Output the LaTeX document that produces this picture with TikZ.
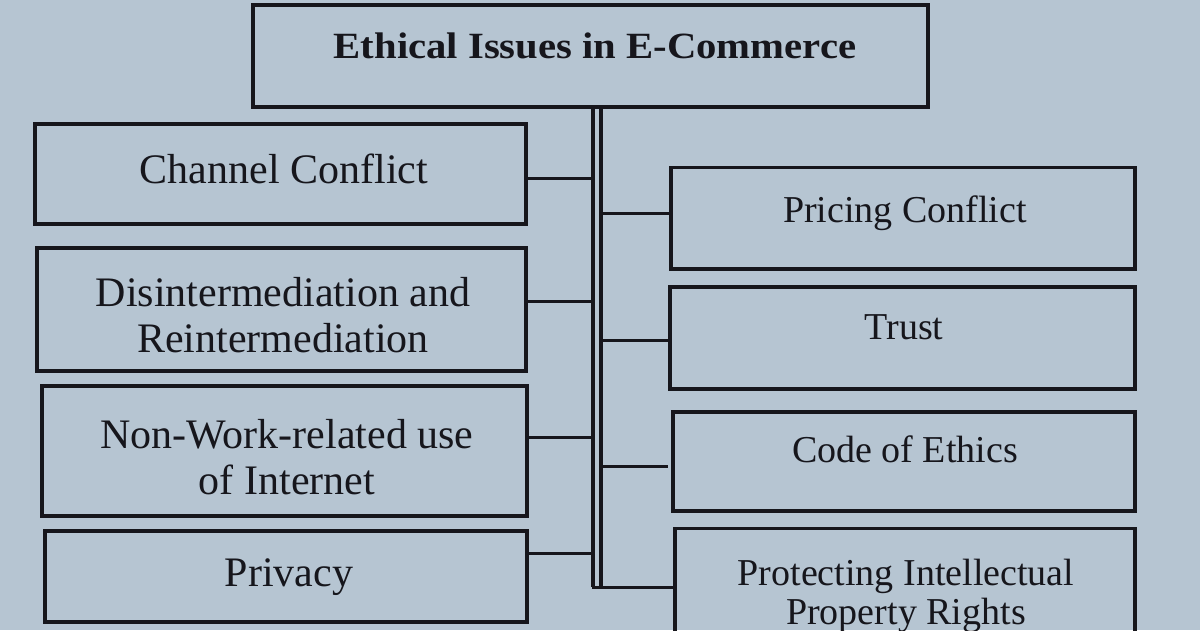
\documentclass[tikz,border=0pt]{standalone}
\usepackage{fontspec}
\setmainfont{Liberation Serif}
\newfontfamily\titlefont[FakeStretch=1.1]{Liberation Serif}
\definecolor{paper}{RGB}{182,197,210}
\definecolor{ink}{RGB}{22,22,28}
\begin{document}
\begin{tikzpicture}[x=1pt,y=-1pt,
  box/.style={draw=ink,line width=3.6pt,inner sep=0pt},
  conn/.style={draw=ink,line width=3pt,line cap=rect},
  trunk/.style={draw=ink,line width=4.5pt},
  ttxt/.style={font=\titlefont\bfseries\fontsize{37}{40}\selectfont,text=ink,inner sep=0pt,anchor=base},
  ltxt/.style={font=\fontsize{42}{46}\selectfont,text=ink,align=center,inner sep=0pt,anchor=base},
  rtxt/.style={font=\fontsize{38}{39}\selectfont,text=ink,align=center,inner sep=0pt,anchor=base}]
\useasboundingbox (0,0) rectangle (1200,630);
\clip (0,0) rectangle (1200,630);
\fill[paper] (0,0) rectangle (1200,630);
% title
\node[box,minimum width=675,minimum height=102] (title) at (590.5,56) {};
\node[ttxt] (titletext) at (595,58) {Ethical Issues in E-Commerce};
% left boxes
\node[box,minimum width=491,minimum height=100] (cc) at (280.5,174) {};
\node[box,minimum width=489,minimum height=123] (di) at (281.5,309.5) {};
\node[box,minimum width=485,minimum height=130] (nw) at (284.5,451) {};
\node[box,minimum width=482,minimum height=91] (pv) at (286,576.5) {};
% right boxes
\node[box,minimum width=464,minimum height=101.5] (pc) at (903,218.25) {};
\node[box,minimum width=465,minimum height=102] (tr) at (902.5,338) {};
\node[box,minimum width=462,minimum height=99] (ce) at (904,461.5) {};
\node[box,minimum width=460,minimum height=150] (ip) at (905,603.5) {};
% texts (base = baseline of last line)
\node[ltxt] (cct) at (284,183) {Channel Conflict};
\node[ltxt] (dit) at (283,352) {Disintermediation and\\Reintermediation};
\node[ltxt] (nwt) at (287,494) {Non-Work-related use\\of Internet};
\node[ltxt] (pvt) at (289,586) {Privacy};
\node[rtxt] (pct) at (905,222) {Pricing Conflict};
\node[rtxt] (trt) at (904,339) {Trust};
\node[rtxt] (cet) at (905,462) {Code of Ethics};
\node[rtxt] (ipt) at (906,624) {Protecting Intellectual\\Property Rights};
% trunk
\coordinate (tlt) at (593,107);
\coordinate (tlb) at (593,587);
\coordinate (trtop) at (601,107);
\coordinate (trb) at (601,587);
\draw[trunk] (tlt) -- (tlb);
\draw[trunk] (trtop) -- (trb);
% left junctions
\coordinate (j1) at (593,178);
\coordinate (j2) at (593,301);
\coordinate (j3) at (593,437);
\coordinate (j4) at (593,553);
\draw[conn] (cc.east |- j1) -- (j1);
\draw[conn] (di.east |- j2) -- (j2);
\draw[conn] (nw.east |- j3) -- (j3);
\draw[conn] (pv.east |- j4) -- (j4);
% right junctions
\coordinate (k1) at (601,213);
\coordinate (k2) at (601,340);
\coordinate (k3) at (601,466);
\draw[conn] (k1) -- (pc.west |- k1);
\draw[conn] (k2) -- (tr.west |- k2);
\draw[conn,shorten >=5pt] (k3) -- (ce.west |- k3);
\draw[conn] (tlb) -- (ip.west |- tlb);
\end{tikzpicture}
\end{document}
